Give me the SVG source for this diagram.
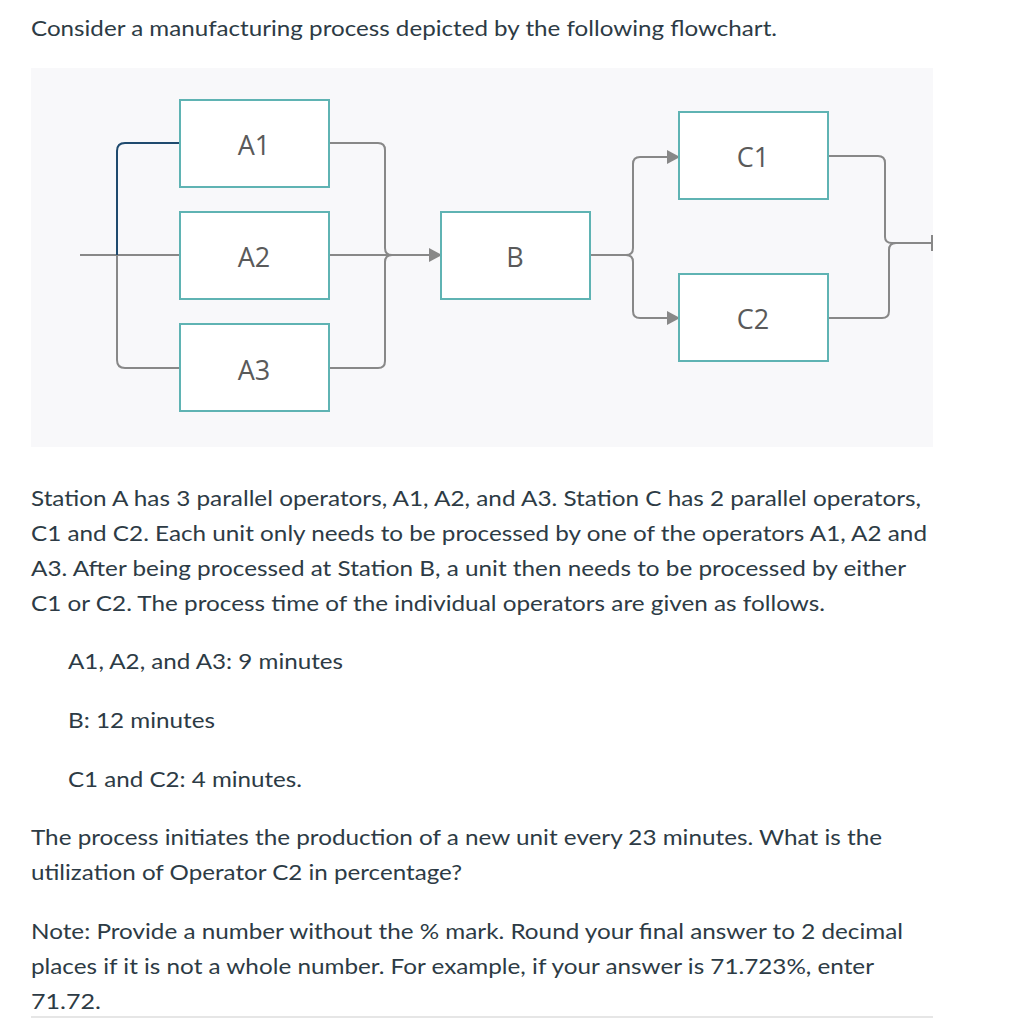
<svg xmlns="http://www.w3.org/2000/svg" width="1011" height="1024" viewBox="0 0 1011 1024">
<defs>
<style>
.t{font-family:Lato,"Open Sans","Liberation Sans",sans-serif;font-size:21px;fill:#2d3b45}
.box{fill:#fff;stroke:#5fb3b3;stroke-width:2}
.lbl{font-family:"Open Sans",Lato,"Liberation Sans",sans-serif;font-size:27px;fill:#5a5a5a;text-anchor:middle}
.c{fill:none;stroke:#888;stroke-width:2}
</style>
<marker id="ah" markerWidth="13" markerHeight="16" refX="12" refY="8" orient="auto" markerUnits="userSpaceOnUse"><path d="M0,1 L13,8 L0,15 z" fill="#888"/></marker>
</defs>
<rect width="1011" height="1024" fill="#fff"/>
<text class="t" x="31" y="36" textLength="746" lengthAdjust="spacingAndGlyphs">Consider a manufacturing process depicted by the following flowchart.</text>
<rect x="31" y="68" width="902" height="379" fill="#f8f8fa"/>
<g id="connectors">
<path class="c" d="M80,255 H180"/>
<path class="c" d="M117,255 V360 Q117,368 125,368 H180"/>
<path fill="none" stroke="#1f4a6e" stroke-width="2" d="M117,255 V151 Q117,143 125,143 H180"/>
<path class="c" d="M329,143 H378 Q385,143 385,150 V248 Q385,255 392,255"/>
<path class="c" d="M329,368 H378 Q385,368 385,361 V262 Q385,255 392,255"/>
<path class="c" d="M329,255 H441" marker-end="url(#ah)"/>
<path class="c" d="M590,255 H626 Q633,255 633,262 V311 Q633,318 640,318 H679" marker-end="url(#ah)"/>
<path class="c" d="M626,255 Q633,255 633,248 V164 Q633,157 640,157 H679" marker-end="url(#ah)"/>
<path class="c" d="M828,156 H878 Q885,156 885,163 V237 Q885,243 892,243 H932"/>
<path class="c" d="M828,318 H882 Q889,318 889,311 V250 Q889,243 896,243"/>
<path class="c" d="M932,235 V251"/>
</g>
<g id="A1"><rect class="box" x="180" y="100" width="149" height="87"/><text class="lbl" x="254" y="155">A1</text></g>
<g id="A2"><rect class="box" x="180" y="212" width="149" height="87"/><text class="lbl" x="254" y="267">A2</text></g>
<g id="A3"><rect class="box" x="180" y="324" width="149" height="87"/><text class="lbl" x="254" y="380">A3</text></g>
<g id="B"><rect class="box" x="441" y="212" width="149" height="87"/><text class="lbl" x="515" y="267">B</text></g>
<g id="C1"><rect class="box" x="679" y="112" width="149" height="87"/><text class="lbl" x="753" y="167">C1</text></g>
<g id="C2"><rect class="box" x="679" y="274" width="149" height="87"/><text class="lbl" x="753" y="329">C2</text></g>
<text class="t" x="31" y="506" textLength="890" lengthAdjust="spacingAndGlyphs">Station A has 3 parallel operators, A1, A2, and A3. Station C has 2 parallel operators,</text>
<text class="t" x="31" y="541" textLength="896" lengthAdjust="spacingAndGlyphs">C1 and C2. Each unit only needs to be processed by one of the operators A1, A2 and</text>
<text class="t" x="31" y="576" textLength="875" lengthAdjust="spacingAndGlyphs">A3. After being processed at Station B, a unit then needs to be processed by either</text>
<text class="t" x="31" y="611" textLength="794" lengthAdjust="spacingAndGlyphs">C1 or C2. The process time of the individual operators are given as follows.</text>
<text class="t" x="68" y="669" textLength="275" lengthAdjust="spacingAndGlyphs">A1, A2, and A3: 9 minutes</text>
<text class="t" x="68" y="728" textLength="147" lengthAdjust="spacingAndGlyphs">B: 12 minutes</text>
<text class="t" x="68" y="787" textLength="234" lengthAdjust="spacingAndGlyphs">C1 and C2: 4 minutes.</text>
<text class="t" x="31" y="845" textLength="851" lengthAdjust="spacingAndGlyphs">The process initiates the production of a new unit every 23 minutes. What is the</text>
<text class="t" x="31" y="880" textLength="431" lengthAdjust="spacingAndGlyphs">utilization of Operator C2 in percentage?</text>
<text class="t" x="31" y="939" textLength="872" lengthAdjust="spacingAndGlyphs">Note: Provide a number without the % mark. Round your final answer to 2 decimal</text>
<text class="t" x="31" y="974" textLength="843" lengthAdjust="spacingAndGlyphs">places if it is not a whole number. For example, if your answer is 71.723%, enter</text>
<text class="t" x="31" y="1009" textLength="70" lengthAdjust="spacingAndGlyphs">71.72.</text>
<rect x="31" y="1016" width="902" height="2" fill="#e6e6e6"/>
</svg>
